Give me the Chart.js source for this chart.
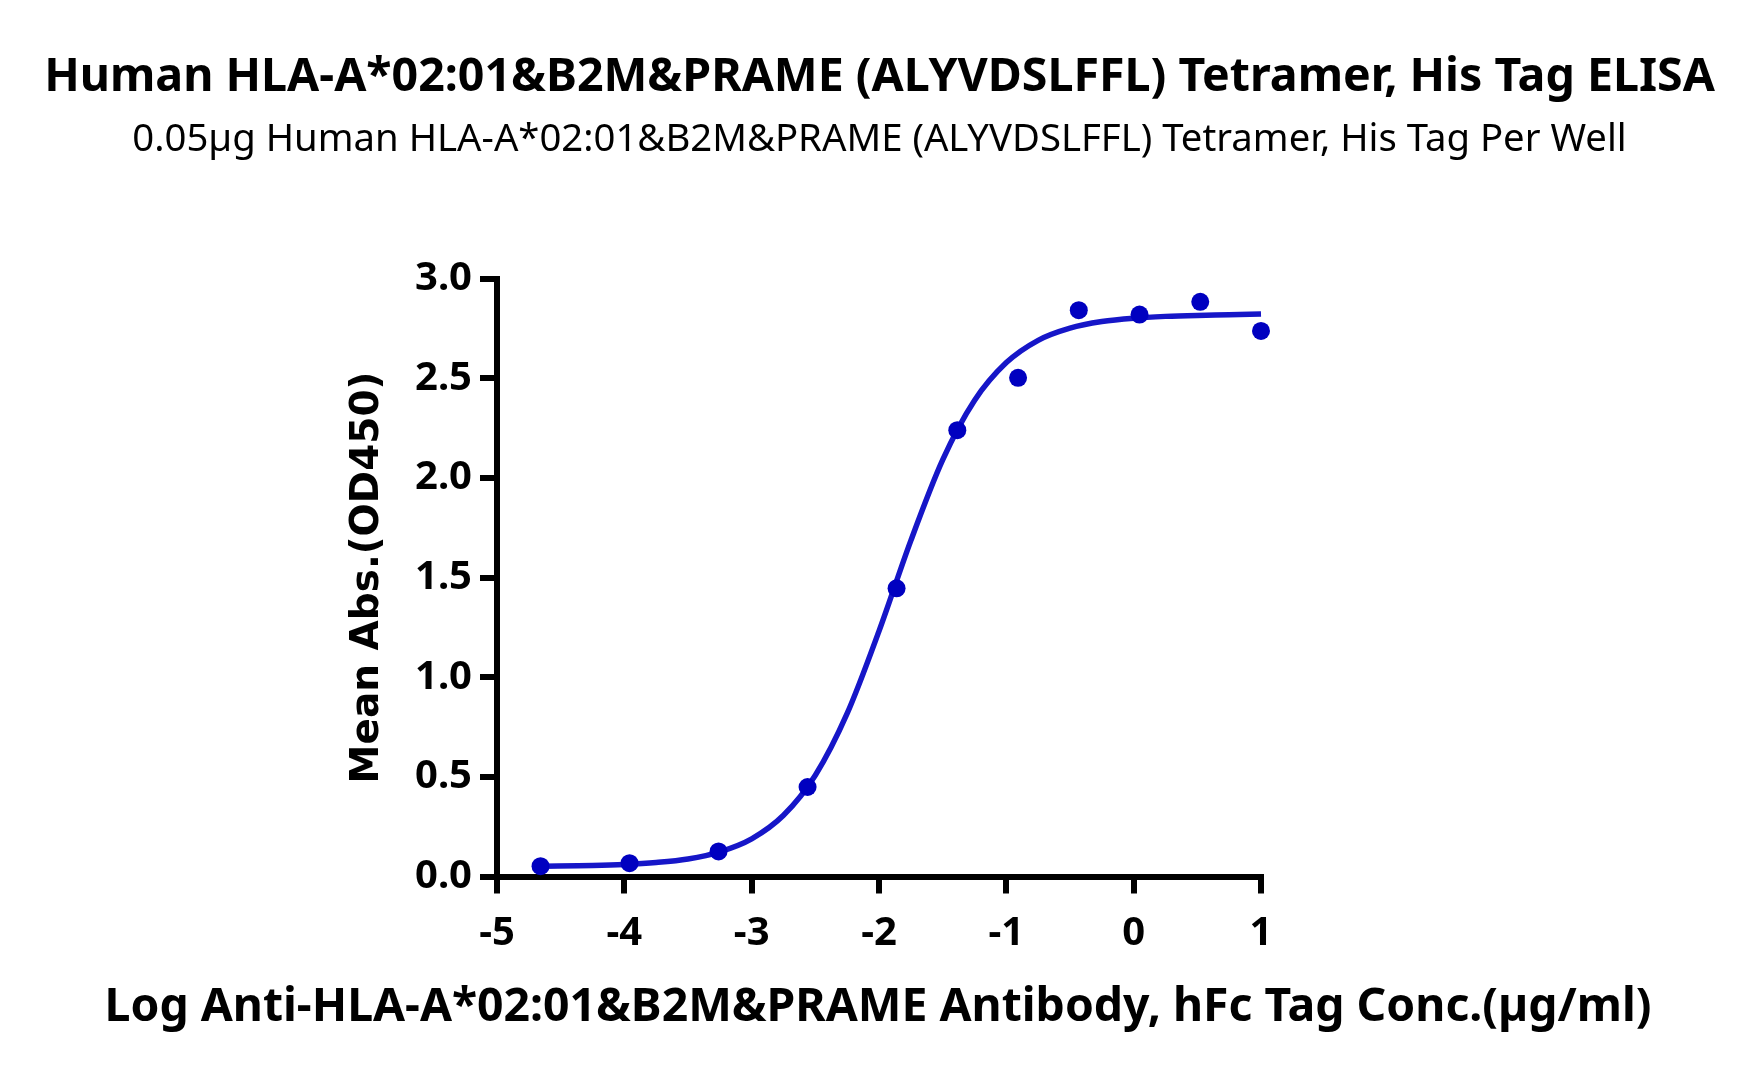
<!DOCTYPE html>
<html><head><meta charset="utf-8">
<script src="https://cdn.jsdelivr.net/npm/chart.js@4.4.1/dist/chart.umd.min.js"></script>
<style>html,body{margin:0;padding:0;background:#fff;}#wrap{width:1759px;height:1076px;}</style>
</head><body><div id="wrap"><canvas id="c" width="1759" height="1076"></canvas></div>
<script>
// ---- text ----
const titleText = "Human HLA-A*02:01&B2M&PRAME (ALYVDSLFFL) Tetramer, His Tag ELISA";
const subtitleText = "0.05µg Human HLA-A*02:01&B2M&PRAME (ALYVDSLFFL) Tetramer, His Tag Per Well";
const xAxisTitle = "Log Anti-HLA-A*02:01&B2M&PRAME Antibody, hFc Tag Conc.(µg/ml)";
const yAxisTitle = "Mean Abs.(OD450)";

// ---- tick labels ----
const xTicks = [-5, -4, -3, -2, -1, 0, 1];
const yTicks = [0, 0.5, 1.0, 1.5, 2.0, 2.5, 3.0];

// ---- measured points (log conc, mean OD450) ----
const logConc = [-4.658, -3.959, -3.260, -2.561, -1.862, -1.385, -0.908, -0.431, 0.046, 0.523, 1.000];
const meanAbs = [0.052, 0.067, 0.126, 0.449, 1.446, 2.239, 2.502, 2.841, 2.819, 2.883, 2.737];

// ---- fitted curve ----
const fitLogConc = [-4.658, -4.25, -4.0, -3.75, -3.5, -3.25, -3.0, -2.75, -2.5, -2.25, -2.0, -1.75, -1.5, -1.25, -1.0, -0.75, -0.5, -0.25, 0, 0.25, 0.5, 0.75, 1.0];
const fitAbs = [0.052, 0.055, 0.060, 0.070, 0.088, 0.124, 0.189, 0.307, 0.508, 0.818, 1.231, 1.685, 2.090, 2.388, 2.578, 2.690, 2.751, 2.784, 2.801, 2.810, 2.815, 2.818, 2.822];

const canvas = document.getElementById('c');
const ctx = canvas.getContext('2d');
function fitSize(text, weight, family, width) {
  ctx.font = weight + ' 100px ' + family;
  return 100 * width / ctx.measureText(text).width;
}
const TF = "'Noto Sans'";
const T = fitSize(titleText, 'bold', TF, 1671);
const S2 = fitSize(subtitleText, 'normal', TF, 1495);
const XS = fitSize(xAxisTitle, 'bold', TF, 1547);
const YS = fitSize(yAxisTitle, 'bold', "'DejaVu Sans'", 412);

const plotTop = 278.5, plotBottom = 876.5, plotLeft = 497, plotRight = 1261;
const p1t = 78 - 0.6 * T;
const p2t = 140 - (p1t + 1.2 * T) - 0.6 * S2;
const p2b = plotTop - (140 + 0.6 * S2);

const black = '#000';
const tickFont = { family: TF, weight: 'bold', size: 40, lineHeight: 1.2 };

// x-axis title drawn as canvas text, centred under the plot, full width
const xTitlePlugin = {
  id: 'xTitle',
  afterDraw(chart) {
    const c = chart.ctx;
    c.save();
    c.fillStyle = black;
    c.font = 'bold ' + XS + 'px ' + TF;
    c.textAlign = 'center';
    c.textBaseline = 'middle';
    c.fillText(xAxisTitle, 878, 1008);
    c.restore();
  }
};

new Chart(ctx, {
  type: 'scatter',
  data: {
    datasets: [
      {
        label: 'Fit',
        data: fitLogConc.map((x, i) => ({ x: x, y: fitAbs[i] })),
        showLine: true, pointRadius: 0, borderColor: '#1616c8', borderWidth: 5.5,
        cubicInterpolationMode: 'monotone', clip: false, order: 2
      },
      {
        label: 'Mean',
        data: logConc.map((x, i) => ({ x: x, y: meanAbs[i] })),
        showLine: false, pointRadius: 9, pointBackgroundColor: '#0000c0',
        pointBorderColor: '#0000c0', pointBorderWidth: 0, clip: false, order: 1
      }
    ]
  },
  plugins: [xTitlePlugin],
  options: {
    responsive: false, animation: false, devicePixelRatio: 1,
    layout: { padding: 0 },
    plugins: {
      legend: { display: false }, tooltip: { enabled: false },
      title: { display: true, text: titleText, color: black,
        font: { family: TF, weight: 'bold', size: T, lineHeight: 1.2 }, padding: { top: p1t, bottom: 0 } },
      subtitle: { display: true, text: subtitleText, color: black,
        font: { family: TF, weight: 'normal', size: S2, lineHeight: 1.2 }, padding: { top: p2t, bottom: p2b } }
    },
    scales: {
      x: {
        type: 'linear', position: 'bottom', min: -5, max: 1,
        afterBuildTicks: s => { s.ticks = xTicks.map(v => ({ value: v })); },
        afterFit: s => { s.height = 1076 - plotBottom; },
        ticks: { color: black, font: tickFont, padding: 16, callback: v => String(v) },
        grid: { display: true, drawOnChartArea: false, drawTicks: true, tickLength: 17, lineWidth: 6, color: black },
        border: { display: true, width: 6, color: black },
        title: { display: false }
      },
      y: {
        type: 'linear', position: 'left', min: 0, max: 3,
        afterBuildTicks: s => { s.ticks = yTicks.map(v => ({ value: v })); },
        afterFit: s => { s.width = plotLeft; },
        ticks: { color: black, font: tickFont, padding: 8, callback: v => Number(v).toFixed(1) },
        grid: { display: true, drawOnChartArea: false, drawTicks: true, tickLength: 17, lineWidth: 6, color: black },
        border: { display: true, width: 6, color: black },
        title: { display: true, text: yAxisTitle, color: black,
          font: { family: "'DejaVu Sans'", weight: 'bold', size: YS, lineHeight: 1.2 }, padding: { top: 368 - 0.6 * YS, bottom: 0 } }
      },
      y2: {
        type: 'linear', position: 'right', min: 0, max: 3, display: true,
        ticks: { display: false }, grid: { display: false }, border: { display: false },
        afterFit: s => { s.width = 1759 - plotRight; }
      }
    }
  }
});
</script>
</body></html>
